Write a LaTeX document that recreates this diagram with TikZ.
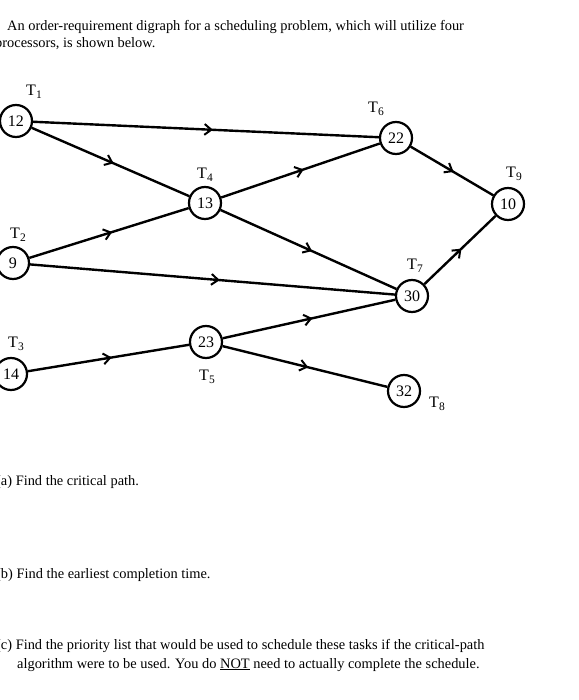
\documentclass[tikz,border=0pt]{standalone}
\usepackage{fontspec}
\setmainfont{Liberation Serif}
\usetikzlibrary{positioning, decorations.markings}
\usetikzlibrary{arrows.meta}
\tikzset{>={Straight Barb[width=3.8mm,length=2.4mm]}}
\newcommand{\tsub}[1]{T\raisebox{-0.35ex}{\fontsize{11.5}{11.5}\selectfont #1}}

\begin{document}
\begin{tikzpicture}[x=1pt, y=-1pt, task/.style={circle, draw=black, line width=2.2pt, minimum size=32pt, inner sep=0pt, font=\fontsize{16}{16}\selectfont}, tlabel/.style={font=\fontsize{16}{16}\selectfont, inner sep=1pt}, txt/.style={anchor=base west, inner sep=0pt, font=\fontsize{14.4}{18}\selectfont}, edge/.style={line width=2.4pt, postaction={decorate}, decoration={markings, mark=at position 0.52 with {\arrow[line width=2pt]{>}}}}]

    \useasboundingbox (0,0) rectangle (578,700);

    %Text
    \node[txt](line1) at (7,31){An order-requirement digraph for a scheduling problem, which will utilize four};
    \node[txt](line2) at (-5,48){processors, is shown below.};
    \node[txt](qa) at (-4,485){(a) Find the critical path.};
    \node[txt](qb) at (-4,578){(b) Find the earliest completion time.};
    \node[txt](qc) at (-4,649){(c) Find the priority list that would be used to schedule these tasks if the critical-path};
    \node[txt](qc2) at (17,668){algorithm were to be used. You do \underline{NOT} need to actually complete the schedule.};

    %Nodes
    \node[task](t1) at (16,121){12};
    \node[task](t2) at (13,263){9};
    \node[task](t3) at (11,374){14};
    \node[task](t4) at (205,203){13};
    \node[task](t5) at (206,342){23};
    \node[task](t6) at (396,138){22};
    \node[task](t7) at (412,296){30};
    \node[task](t8) at (404,391){32};
    \node[task](t9) at (508,204){10};

    %Labels
    \node[tlabel](l1) at (34,92){\tsub{1}};
    \node[tlabel](l2) at (18,235){\tsub{2}};
    \node[tlabel](l3) at (16,344){\tsub{3}};
    \node[tlabel](l4) at (205,175){\tsub{4}};
    \node[tlabel](l5) at (207,377){\tsub{5}};
    \node[tlabel](l6) at (376,109){\tsub{6}};
    \node[tlabel](l7) at (415,266){\tsub{7}};
    \node[tlabel](l8) at (437,404){\tsub{8}};
    \node[tlabel](l9) at (514,174){\tsub{9}};

    %Lines
    \draw[edge] (t1) -- (t6);
    \draw[edge] (t1) -- (t4);
    \draw[edge] (t2) -- (t4);
    \draw[edge] (t2) -- (t7);
    \draw[edge] (t4) -- (t6);
    \draw[edge] (t4) -- (t7);
    \draw[edge] (t3) -- (t5);
    \draw[edge] (t5) -- (t7);
    \draw[edge] (t5) -- (t8);
    \draw[edge] (t6) -- (t9);
    \draw[edge] (t7) -- (t9);

\end{tikzpicture}
\end{document}
